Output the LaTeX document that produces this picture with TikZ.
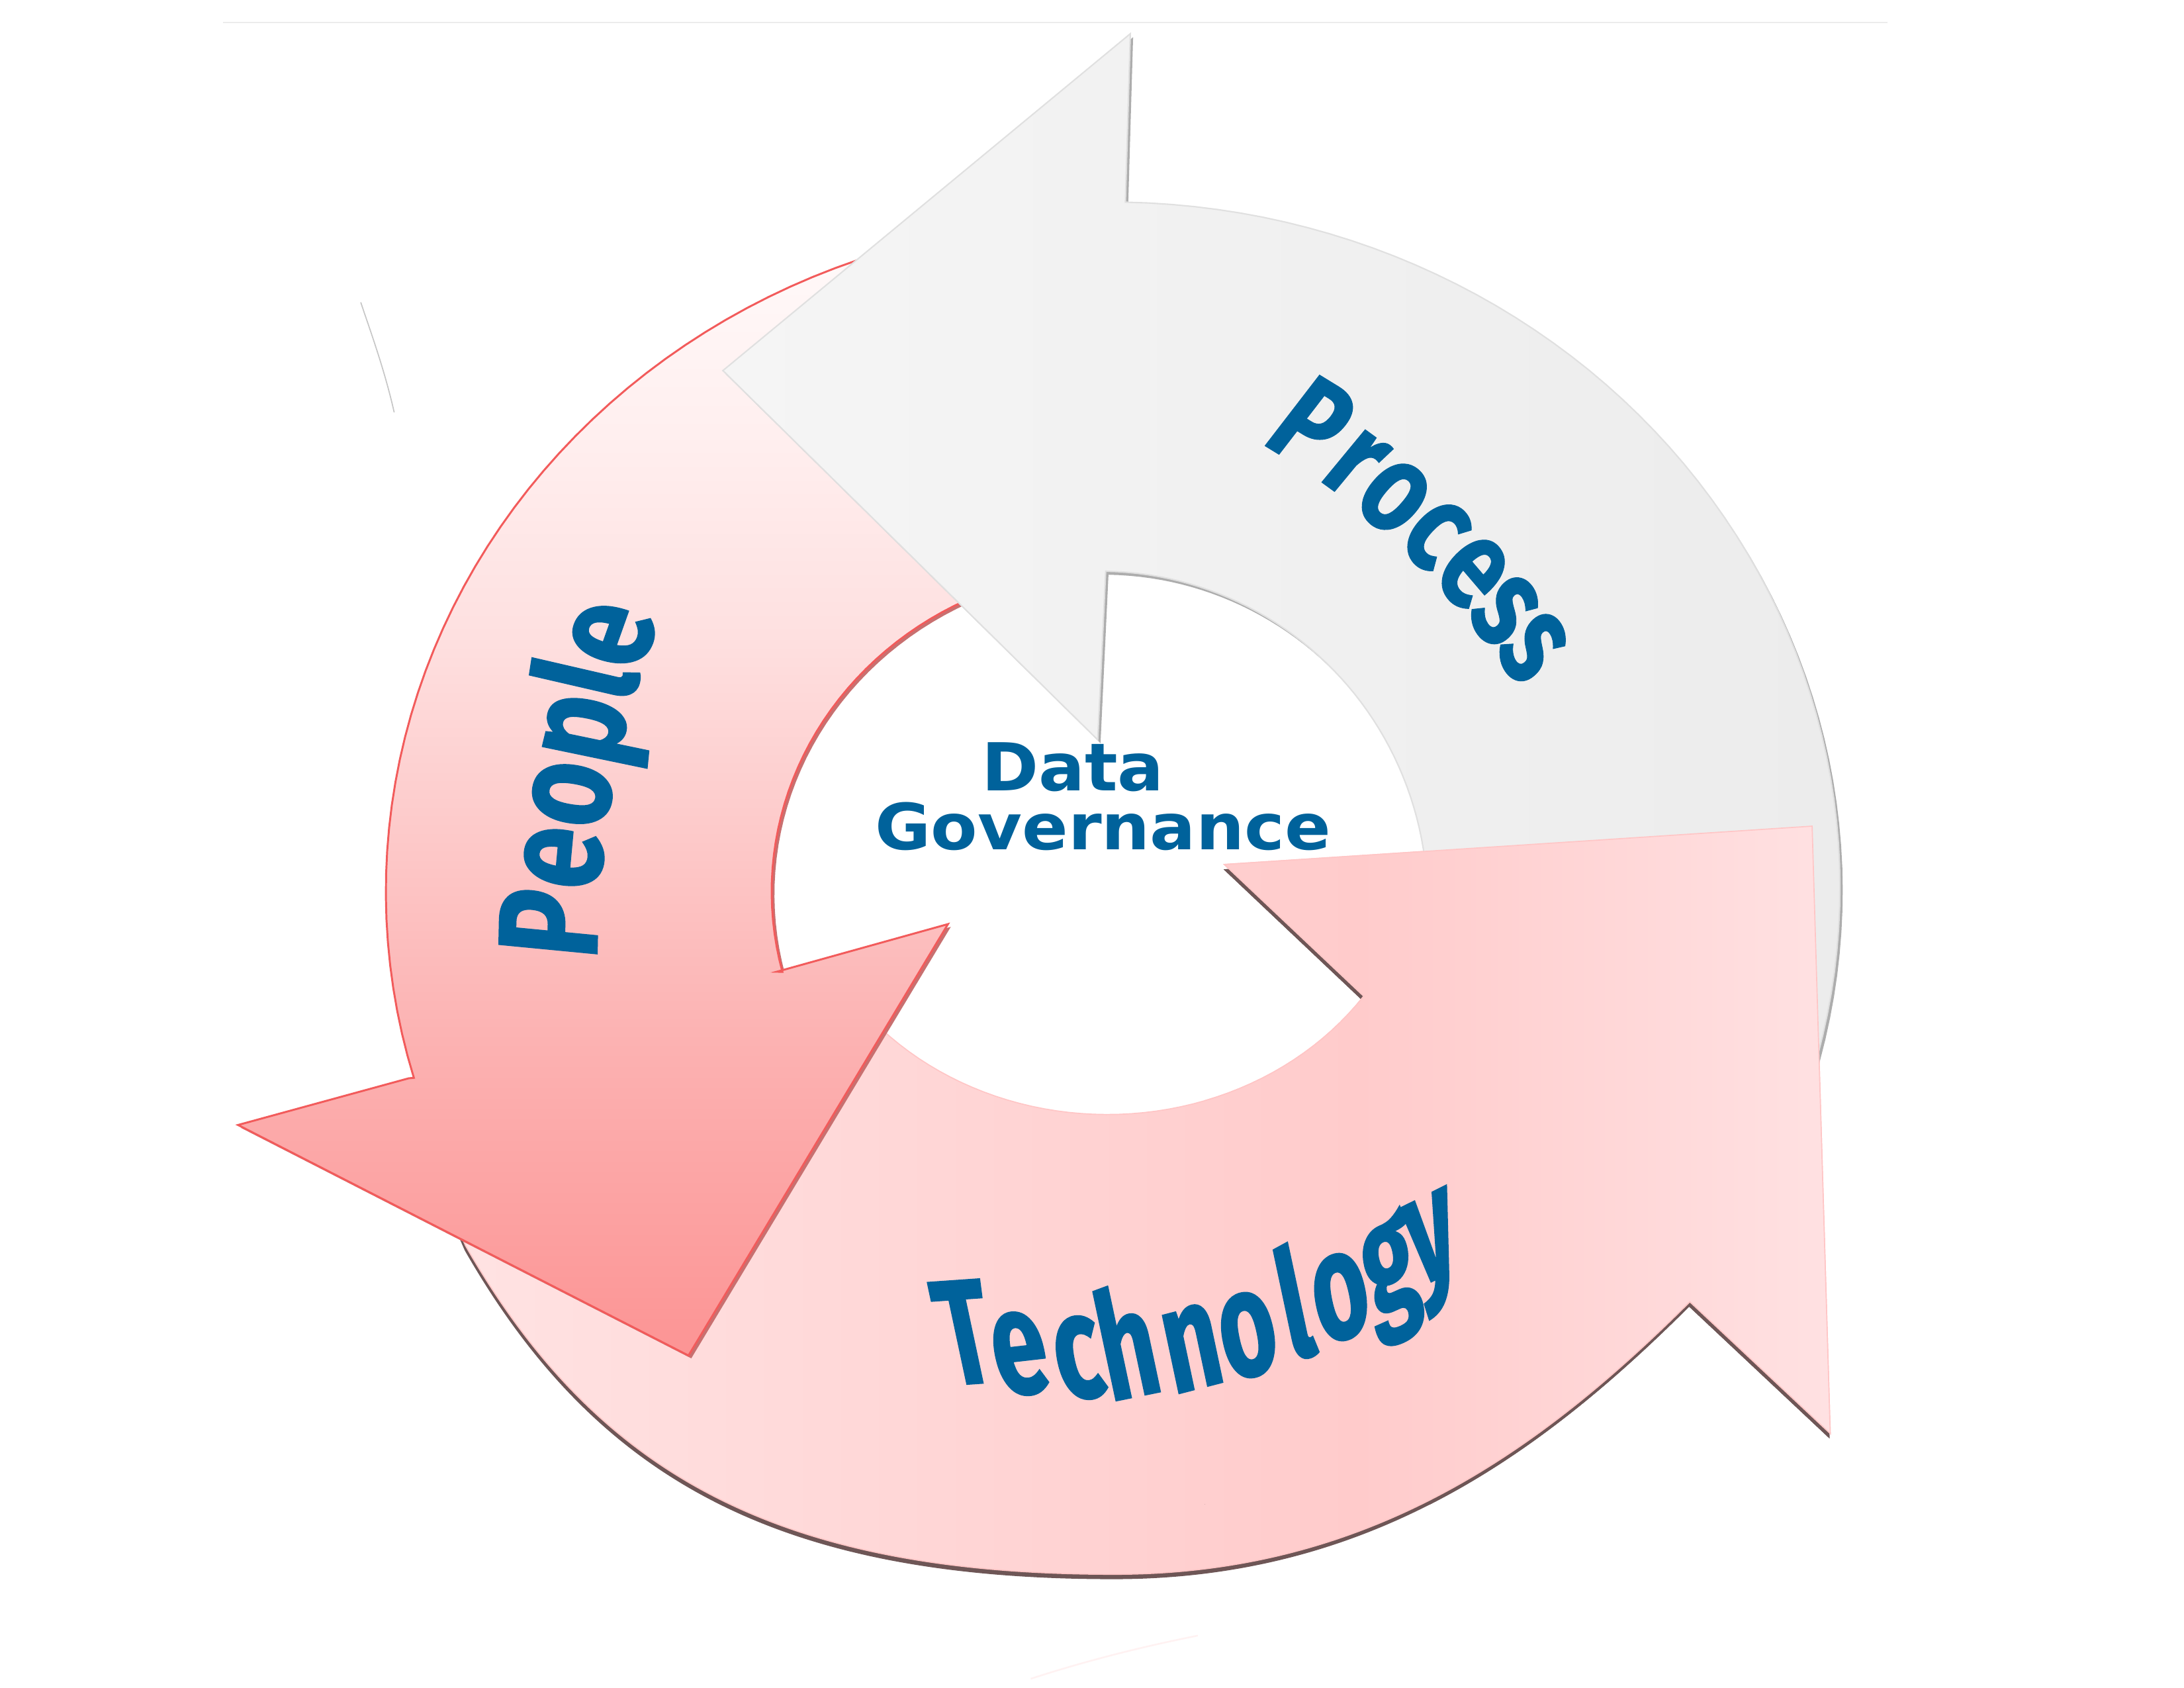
\documentclass[tikz,border=0pt]{standalone}
\usepackage{fontspec}
\usepackage{graphicx}
\newfontfamily\dgfont{DejaVu Sans}
\newfontfamily\procfont[FakeStretch=0.78,FakeBold=0.5]{Fira Sans}
\newfontfamily\peopfont[FakeStretch=0.78,FakeBold=0.7]{Fira Sans}
\newfontfamily\techfont[FakeStretch=0.655,FakeBold=0.8]{Fira Sans}
\definecolor{tblue}{HTML}{00629B}
\definecolor{tA}{HTML}{FFE3E3}
\definecolor{tB}{HTML}{FFCBCB}
\definecolor{tC}{HTML}{FFE1E2}
\definecolor{pA}{HTML}{FC9494}
\definecolor{pB}{HTML}{FCB2B2}
\definecolor{pC}{HTML}{FDC9C9}
\definecolor{pD}{HTML}{FEE0E0}
\definecolor{pE}{HTML}{FFEFEF}
\definecolor{pF}{HTML}{FFFAFA}
\definecolor{gA}{HTML}{F5F5F5}
\definecolor{gB}{HTML}{ECECEC}
\definecolor{redline}{HTML}{F25B5B}
\definecolor{pshadow}{HTML}{C87070}
\definecolor{tshadow}{HTML}{6E5656}
\definecolor{gshadow}{HTML}{ADADAD}
\definecolor{gline}{HTML}{E0E0E0}
\definecolor{tline}{HTML}{FFC6C6}
\definecolor{topgray}{HTML}{ECECEC}
\pgfdeclarehorizontalshading{techshade}{100bp}{color(0bp)=(tA); color(25bp)=(tA); color(58bp)=(tB); color(75bp)=(tC); color(100bp)=(tC)}
\pgfdeclareverticalshading{peopleshade}{100bp}{color(0bp)=(pA); color(25bp)=(pA); color(39bp)=(pB); color(48bp)=(pC); color(57bp)=(pD); color(66bp)=(pE); color(75bp)=(pF); color(100bp)=(pF)}

\def\techpath{(979,715) -- (879,620.5) -- (1301,593) -- (1314,1029) -- (1213.2,934.4) .. controls (1103,1044.4) and (980,1130) .. (800,1130) .. controls (560,1130) and (429,1059.4) .. (334.2,894.1) -- (315,850) -- plot[variable=\t, domain=0:1, samples=50] ({795+225*cos(147.6-112.5*\t)}, {600+200*sin(147.6-112.5*\t)}) -- cycle}

\def\peoplepath{(293.4,774) -- plot[variable=\t, domain=0:1, samples=50] ({790+513*cos(163.9+96.1*\t)}, {640+482*sin(163.9+96.1*\t)}) -- plot[variable=\t, domain=0:1, samples=40] ({800+246*cos(256-90.4*\t)}, {640+232*sin(256-90.4*\t)}) -- (557.7,697.5) -- (680.6,663.3) -- (494.3,973) -- (170.9,807.5) -- cycle}

\def\graypath{(811.5,24.2) -- (808,144) -- plot[variable=\t, domain=0:1, samples=60] ({797+524*cos(-88.8+106.8*\t)}, {637+492*sin(-88.8+106.8*\t)}) -- (1022,655) -- plot[variable=\t, domain=0:1, samples=50] ({790+235*cos(1.7-90.8*\t)}, {648+238*sin(1.7-90.8*\t)}) -- (788.1,531) -- (519,266) -- cycle}

% one warped letter: name, x, y, baseline angle, slant, style, letter
\newcommand\arcletter[7]{%
  \begin{scope}[shift={(#2,#3)}]
    \node[#6, rotate=#4, xslant=#5, transform shape] (#1) at (0,0) {#7};
  \end{scope}}

\begin{document}
\begin{tikzpicture}[x=1pt,y=-1pt,
  letterbase/.style={anchor=base, inner sep=0pt, text=tblue},
  techl/.style={letterbase, font=\techfont\bfseries\fontsize{108}{108}\selectfont},
  peopl/.style={letterbase, font=\peopfont\bfseries\fontsize{102}{102}\selectfont},
  procl/.style={letterbase, font=\procfont\bfseries\fontsize{92}{92}\selectfont},
  dgstyle/.style={anchor=base west, inner sep=0pt, text=tblue},
  topline/.style={draw=topgray, line width=1},
  faintgray/.style={draw=gray!45, line width=0.8},
  faintpink/.style={draw=red!5, line width=1.2}]
\useasboundingbox (0,0) rectangle (1568,1211.6);
\fill[white] (0,0) rectangle (1568,1211.6);
\draw[topline] (160,16) -- (1355,16);
\draw[faintgray] (259,217) .. controls (266,238) and (276,265) .. (283,296);
\draw[faintpink] (740,1205) .. controls (780,1192) and (820,1182) .. (860,1174);

% Technology arrow
\fill[tshadow, shift={(-0.5,3.5)}] \techpath;
\shadedraw[shading=techshade, draw=tline, line width=0.8] \techpath;
% People arrow
\fill[pshadow, shift={(2,2)}] \peoplepath;
\shadedraw[shading=peopleshade, draw=redline, line width=1.4] \peoplepath;
% Process arrow
\fill[gshadow, shift={(2,2.5)}] \graypath;
\shadedraw[left color=gA, right color=gB, draw=gline, line width=1] \graypath;
% Technology head over the Process arrow
\begin{scope}
  \clip (865,560) rectangle (1400,1080);
  \fill[tshadow, shift={(-0.5,3.5)}] \techpath;
  \shadedraw[shading=techshade, draw=tline, line width=0.8] \techpath;
\end{scope}

% Process
\arcletter{p1}{922.6}{328.8}{-31.5}{0.107}{procl}{P}
\arcletter{p2}{957}{352}{-36}{0.062}{procl}{r}
\arcletter{p3}{985}{375}{-40}{0.018}{procl}{o}
\arcletter{p4}{1014}{401}{-45}{-0.031}{procl}{c}
\arcletter{p5}{1040}{428}{-49.5}{-0.075}{procl}{e}
\arcletter{p6}{1062.5}{455}{-54}{-0.120}{procl}{s}
\arcletter{p7}{1082}{481}{-58}{-0.163}{procl}{s}

% People
\arcletter{q1}{429.1}{666}{88.8}{0.075}{peopl}{P}
\arcletter{q2}{431.8}{619.5}{84.7}{0.043}{peopl}{e}
\arcletter{q3}{437.6}{574.5}{80.7}{0.005}{peopl}{o}
\arcletter{q4}{446.8}{528.6}{76.5}{-0.031}{peopl}{p}
\arcletter{q5}{456}{494.6}{73.4}{-0.063}{peopl}{l}
\arcletter{q6}{466.4}{462.7}{70.4}{-0.087}{peopl}{e}

% Technology
\arcletter{tT}{700}{993.2}{4}{-0.141}{techl}{T}
\arcletter{te}{738}{1000}{6.5}{-0.096}{techl}{e}
\arcletter{tc}{780}{1003.2}{9}{-0.052}{techl}{c}
\arcletter{th}{817}{1002.3}{11.5}{-0.009}{techl}{h}
\arcletter{tn}{862}{996.3}{14.5}{0.044}{techl}{n}
\arcletter{to}{902}{986.5}{17}{0.087}{techl}{o}
\arcletter{tl}{937}{974.1}{19.5}{0.132}{techl}{l}
\arcletter{tp}{968.5}{959.5}{21.5}{0.167}{techl}{o}
\arcletter{tg}{1003.5}{939.1}{24}{0.213}{techl}{g}
\arcletter{ty}{1034}{916.9}{26.5}{0.259}{techl}{y}

\node[dgstyle] (data) at (704.5,567.4) {\resizebox{131pt}{34.6pt}{\dgfont\bfseries Data}};
\node[dgstyle] (gov) at (628.2,609.9) {\resizebox{327pt}{34pt}{\dgfont\bfseries Governance}};
\end{tikzpicture}
\end{document}
